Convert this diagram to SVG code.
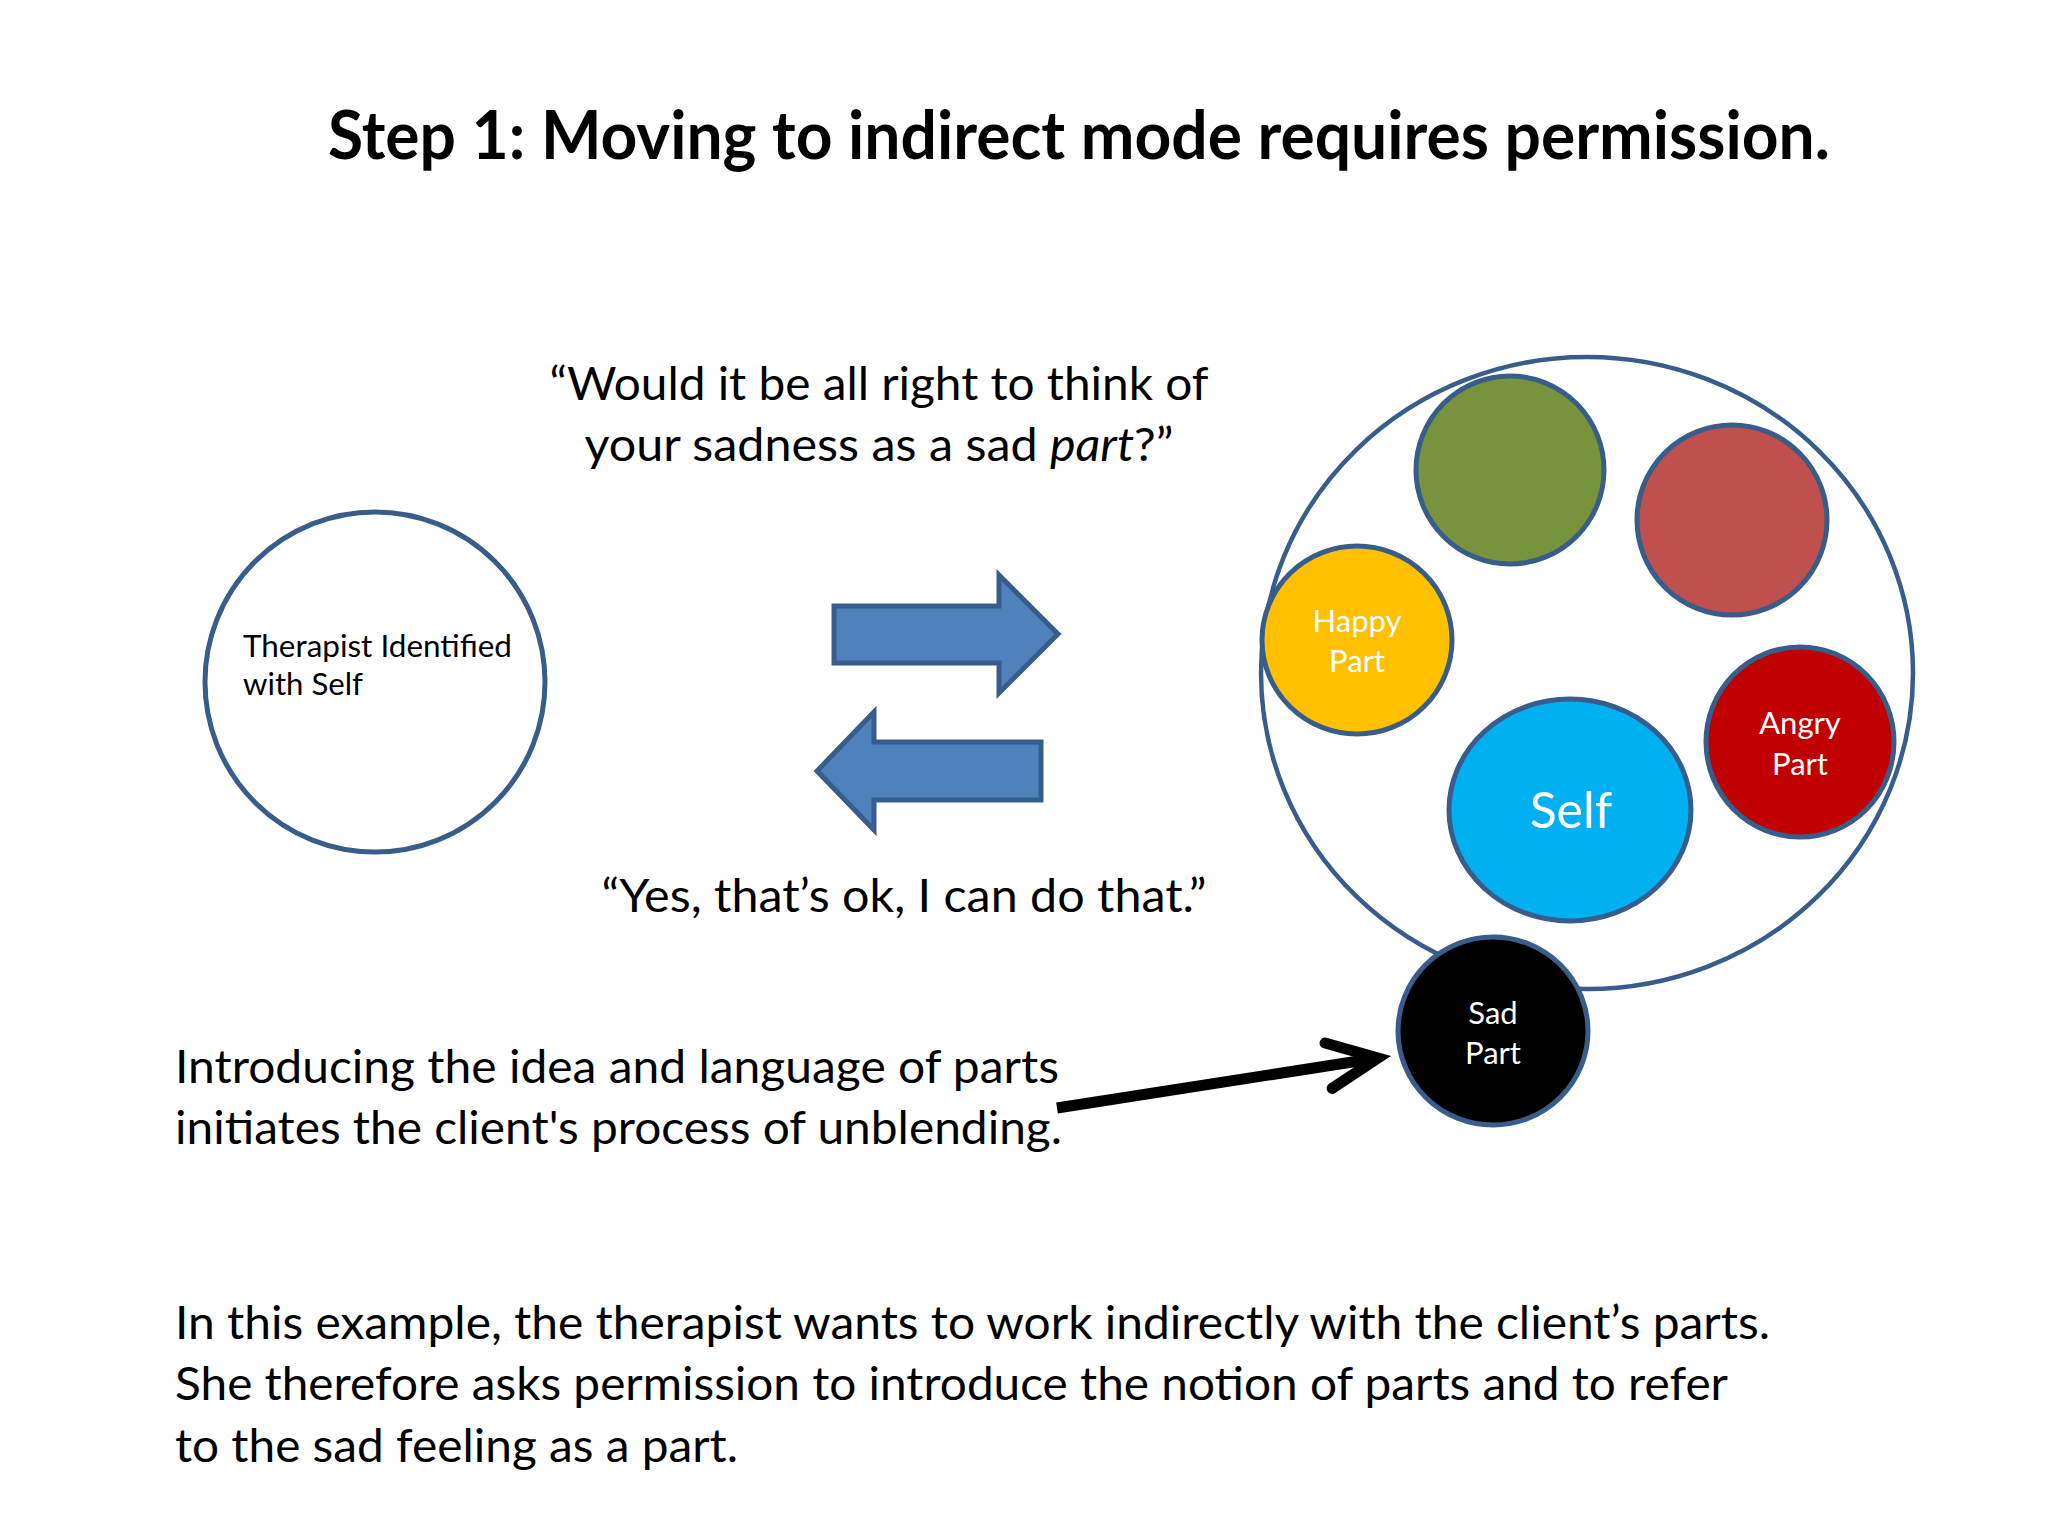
<svg xmlns="http://www.w3.org/2000/svg" width="2048" height="1536" viewBox="0 0 2048 1536">
<style>
.t{font-family:Lato,"Open Sans","Liberation Sans",sans-serif;fill:#000}
.title{font-size:66px;font-weight:bold}
.body{font-size:47px}
.quote{font-size:47px;text-anchor:middle}
.small{font-size:30px}
.lbl{font-size:31px;fill:#fff;text-anchor:middle}
.big{font-size:50px}
.part{stroke:#385D8A;stroke-width:5}
.blk{fill:#4F81BD;stroke:#385D8A;stroke-width:5}
</style>
<defs>
<marker id="chev" markerUnits="userSpaceOnUse" orient="auto" refX="0" refY="0" markerWidth="10" markerHeight="10" overflow="visible">
<path d="M-50,-23 L0,0 L-50,23" fill="none" stroke="#000" stroke-width="11" stroke-linecap="round" stroke-linejoin="miter"/>
</marker>
</defs>
<rect width="2048" height="1536" fill="#fff"/>
<text class="t title" x="328" y="159" textLength="1502" lengthAdjust="spacingAndGlyphs">Step 1: Moving to indirect mode requires permission.</text>

<g id="therapist">
<circle cx="375" cy="682" r="170" fill="#fff" stroke="#385D8A" stroke-width="5"/>
<text class="t small" x="243" y="657" textLength="269" lengthAdjust="spacingAndGlyphs">Therapist Identified</text>
<text class="t small" x="243" y="695" textLength="120" lengthAdjust="spacingAndGlyphs">with Self</text>
</g>

<g id="quote-ask">
<text class="t quote" x="879" y="400" textLength="659" lengthAdjust="spacingAndGlyphs">“Would it be all right to think of</text>
<text class="t quote" x="879" y="461" textLength="589" lengthAdjust="spacingAndGlyphs">your sadness as a sad <tspan font-style="italic">part</tspan>?”</text>
</g>

<g id="arrow-right">
<path class="blk" d="M834,606 L999,606 L999,575 L1058,634 L999,693 L999,663 L834,663 Z"/>
</g>
<g id="arrow-left">
<path class="blk" d="M1041,742 L874,742 L874,712 L817,771 L874,830 L874,800 L1041,800 Z"/>
</g>

<g id="quote-reply">
<text class="t quote" x="904" y="912" textLength="605" lengthAdjust="spacingAndGlyphs">“Yes, that’s ok, I can do that.”</text>
</g>

<g id="system">
<ellipse cx="1587" cy="673" rx="326" ry="316" fill="#fff" stroke="#385D8A" stroke-width="4.5"/>
</g>
<g id="part-green">
<ellipse class="part" cx="1510" cy="470" rx="94" ry="94" fill="#77933C"/>
</g>
<g id="part-red">
<ellipse class="part" cx="1732" cy="520" rx="95" ry="95" fill="#C0504D"/>
</g>
<g id="part-happy">
<ellipse class="part" cx="1357" cy="640" rx="95" ry="94" fill="#FFC000"/>
<text class="t lbl" x="1357" y="632">Happy</text>
<text class="t lbl" x="1357" y="672">Part</text>
</g>
<g id="part-angry">
<ellipse class="part" cx="1800" cy="742" rx="94" ry="95" fill="#C00000"/>
<text class="t lbl" x="1800" y="734">Angry</text>
<text class="t lbl" x="1800" y="775">Part</text>
</g>
<g id="self">
<ellipse class="part" cx="1570" cy="810" rx="121" ry="111" fill="#00B0F0"/>
<text class="t lbl big" x="1571" y="828">Self</text>
</g>
<g id="part-sad">
<ellipse class="part" cx="1493" cy="1031" rx="95" ry="94" fill="#000"/>
<text class="t lbl" x="1493" y="1024">Sad</text>
<text class="t lbl" x="1493" y="1064">Part</text>
</g>

<g id="connectors">
<path d="M1057,1108 L1378,1058" fill="none" stroke="#000" stroke-width="11" marker-end="url(#chev)"/>
</g>

<g id="caption-intro">
<text class="t body" x="175" y="1083" textLength="884" lengthAdjust="spacingAndGlyphs">Introducing the idea and language of parts</text>
<text class="t body" x="175" y="1144" textLength="887" lengthAdjust="spacingAndGlyphs">initiates the client's process of unblending.</text>
</g>

<g id="caption-example">
<text class="t body" x="175" y="1339" textLength="1595" lengthAdjust="spacingAndGlyphs">In this example, the therapist wants to work indirectly with the client’s parts.</text>
<text class="t body" x="175" y="1400" textLength="1553" lengthAdjust="spacingAndGlyphs">She therefore asks permission to introduce the notion of parts and to refer</text>
<text class="t body" x="175" y="1462" textLength="563" lengthAdjust="spacingAndGlyphs">to the sad feeling as a part.</text>
</g>
</svg>
